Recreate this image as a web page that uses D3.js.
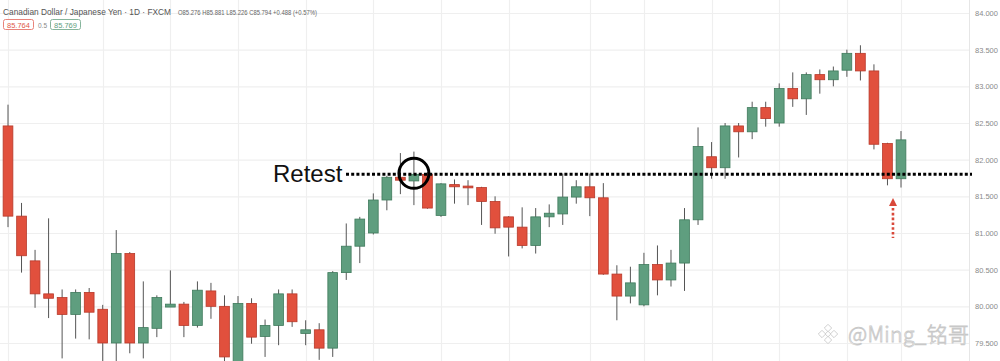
<!DOCTYPE html>
<html><head><meta charset="utf-8">
<script src="https://cdn.jsdelivr.net/npm/d3@7"></script>
<style>html,body{margin:0;padding:0;background:#fff;overflow:hidden}</style>
</head><body>
<svg id="c" width="1000" height="361"></svg>
<script>
// ---- data (CAD/JPY daily candles) ----
const categories = ["D1","D2","D3","D4","D5","D6","D7","D8","D9","D10","D11","D12","D13","D14","D15","D16","D17","D18","D19","D20","D21","D22","D23","D24","D25","D26","D27","D28","D29","D30","D31","D32","D33","D34","D35","D36","D37","D38","D39","D40","D41","D42","D43","D44","D45","D46","D47","D48","D49","D50","D51","D52","D53","D54","D55","D56","D57","D58","D59","D60","D61","D62","D63","D64","D65","D66","D67"];
const openV  = [82.46,81.23,80.62,80.17,80.12,79.89,80.19,79.96,79.50,80.72,79.50,79.70,79.99,80.03,79.74,80.21,80.00,79.20,80.04,79.59,79.74,80.17,79.63,79.68,79.43,80.46,80.82,81.00,81.45,81.76,81.71,81.80,81.24,81.66,81.64,81.62,81.43,81.22,81.08,80.83,81.22,81.26,81.49,81.63,81.48,80.44,80.14,80.02,80.57,80.36,80.59,81.18,82.04,81.89,82.46,82.38,82.71,82.50,82.97,82.83,83.16,83.09,83.22,83.45,83.21,82.22,81.74];
const highV  = [82.75,81.41,80.77,81.20,80.23,80.23,80.25,80.02,81.04,80.74,80.34,80.15,80.49,80.06,80.34,80.32,80.15,80.14,80.11,79.82,80.23,80.23,79.81,79.77,80.48,81.13,81.22,81.54,81.78,82.09,82.11,81.83,81.68,81.73,81.72,81.63,81.50,81.23,81.35,81.34,81.39,81.81,81.72,81.81,81.68,80.56,80.54,80.73,80.83,80.77,81.34,82.44,82.24,82.50,82.50,82.79,82.79,83.04,83.19,83.19,83.23,83.27,83.50,83.56,83.30,82.23,82.39];
const lowV   = [81.08,80.46,79.98,79.84,79.29,79.56,79.55,79.25,79.25,79.36,79.29,79.58,79.99,79.58,79.71,79.83,79.20,79.15,79.49,79.31,79.47,79.72,79.47,79.27,79.31,80.36,80.59,80.98,81.31,81.53,81.38,81.33,81.22,81.40,81.38,81.11,80.99,80.68,80.79,80.72,81.08,81.11,81.40,81.23,80.43,79.81,80.04,80.00,80.15,80.27,80.21,81.11,81.74,81.74,82.03,82.28,82.45,82.45,82.72,82.61,82.90,83.00,83.13,83.08,82.14,81.65,81.62];
const closeV = [81.23,80.69,80.17,80.11,79.89,80.19,79.92,79.50,80.72,79.50,79.71,80.12,80.03,79.74,80.22,80.00,79.31,80.04,79.58,79.74,80.17,79.79,79.68,79.43,80.46,80.82,81.19,81.45,81.76,81.72,81.80,81.34,81.67,81.63,81.62,81.43,81.07,81.08,80.83,81.22,81.27,81.49,81.63,81.48,80.44,80.14,80.32,80.57,80.36,80.59,81.18,82.18,81.89,82.46,82.38,82.71,82.56,82.97,82.83,83.16,83.09,83.21,83.45,83.21,82.21,81.74,82.27];
const yTicks = [84.0,83.5,83.0,82.5,82.0,81.5,81.0,80.5,80.0,79.5];
const timeGridAt = ["D1","D8","D13","D18","D23","D28","D33","D38","D44","D48","D53","D58","D63","D67"];
const retestLevel = 81.80;
const retestCandle = "D31";
const signalCandle = "D66";
const titleText = "Canadian Dollar / Japanese Yen · 1D · FXCM";
const ohlcText = "O85.276 H85.881 L85.226 C85.794 +0.488 (+0.57%)";
const bidText = "85.764", spreadText = "0.5", askText = "85.769";

// ---- layout ----
const W = 1000, H = 361, plotRight = 969;
const svg = d3.select("#c");
const x = d3.scalePoint().domain(categories).range([8, 901]);
const y = d3.scaleLinear().domain([79.5, 84]).range([343, 13]);
const bw = x.step() * 0.72;
const RED = "#e1503d", RED_S = "#b7392a", GREEN = "#5f9e7f", GREEN_S = "#3f7a5c";

svg.append("defs").append("clipPath").attr("id","plot")
  .append("rect").attr("x",0).attr("y",0).attr("width",plotRight).attr("height",H);

// grid
const grid = svg.append("g");
grid.selectAll("line.h").data(yTicks).join("line")
  .attr("x1",0).attr("x2",plotRight).attr("y1",d=>y(d)+0.5).attr("y2",d=>y(d)+0.5)
  .attr("stroke","#efefef").attr("stroke-width",1.2);
grid.selectAll("line.v").data(timeGridAt).join("line")
  .attr("x1",d=>Math.round(x(d))+0.5).attr("x2",d=>Math.round(x(d))+0.5).attr("y1",0).attr("y2",H)
  .attr("stroke","#efefef").attr("stroke-width",1.2);
svg.append("line").attr("x1",plotRight+0.5).attr("x2",plotRight+0.5).attr("y1",0).attr("y2",H)
  .attr("stroke","#e6e6e6");

// y axis labels
const yAxis = d3.axisRight(y).tickValues(yTicks).tickFormat(d3.format(".3f")).tickSize(0).tickPadding(6);
const ga = svg.append("g").attr("transform",`translate(${plotRight},0)`).call(yAxis);
ga.select(".domain").remove();
ga.selectAll("text").attr("fill","#8a8a8a").style("font-family","'Liberation Sans', Arial, sans-serif").style("font-size","7.5px");

// candles
const data = categories.map((c,i)=>({c, o:openV[i], h:highV[i], l:lowV[i], cl:closeV[i]}));
const cg = svg.append("g").attr("clip-path","url(#plot)");
cg.selectAll("line.w").data(data).join("line")
  .attr("x1",d=>x(d.c)).attr("x2",d=>x(d.c)).attr("y1",d=>y(d.h)).attr("y2",d=>y(d.l))
  .attr("stroke","#555").attr("stroke-width",1);
cg.selectAll("rect.b").data(data).join("rect")
  .attr("x",d=>x(d.c)-bw/2).attr("width",bw)
  .attr("y",d=>y(Math.max(d.o,d.cl)))
  .attr("height",d=>Math.max(1.8, Math.abs(y(d.o)-y(d.cl))))
  .attr("fill",d=>d.cl>=d.o?GREEN:RED)
  .attr("stroke",d=>d.cl>=d.o?GREEN_S:RED_S).attr("stroke-width",0.8);

// retest annotation
const ry = y(retestLevel);
svg.append("text").attr("x",273).attr("y",ry+8).text("Retest")
  .style("font-family","'Liberation Sans', Arial, sans-serif").style("font-size","24px").attr("fill","#111");
svg.append("line").attr("x1",346).attr("x2",972).attr("y1",ry).attr("y2",ry)
  .attr("stroke","#000").attr("stroke-width",3).attr("stroke-dasharray","3,2.2");
svg.append("circle").attr("cx",x(retestCandle)).attr("cy",ry-1).attr("r",15)
  .attr("fill","none").attr("stroke","#000").attr("stroke-width",3);

// red arrow
const ax = x(signalCandle)+5.5;
svg.append("path").attr("d",`M${ax},${198} L${ax-4},${206} L${ax+4},${206} Z`).attr("fill","#d9483a");
svg.append("line").attr("x1",ax).attr("x2",ax).attr("y1",208).attr("y2",238)
  .attr("stroke","#d9483a").attr("stroke-width",2.6).attr("stroke-dasharray","2.6,2.2");

// header
const hf = "'Liberation Sans', Arial, sans-serif";
svg.append("text").attr("x",3).attr("y",15).text(titleText).attr("fill","#555")
  .style("font-family",hf).style("font-size","8.4px").attr("textLength",168).attr("lengthAdjust","spacingAndGlyphs");
svg.append("text").attr("x",178).attr("y",15).text(ohlcText).attr("fill","#666")
  .style("font-family",hf).style("font-size","6.6px").attr("textLength",139).attr("lengthAdjust","spacingAndGlyphs");
svg.append("rect").attr("x",3.5).attr("y",19.5).attr("width",30).attr("height",10).attr("rx",2)
  .attr("fill","#fff").attr("stroke","#e8837a");
svg.append("text").attr("x",18.5).attr("y",27.5).attr("text-anchor","middle").text(bidText).attr("fill","#e0594c")
  .style("font-family",hf).style("font-size","7.5px");
svg.append("text").attr("x",38).attr("y",27.5).text(spreadText).attr("fill","#888")
  .style("font-family",hf).style("font-size","6.5px");
svg.append("rect").attr("x",50.5).attr("y",19.5).attr("width",30).attr("height",10).attr("rx",2)
  .attr("fill","#fff").attr("stroke","#86b59c");
svg.append("text").attr("x",65.5).attr("y",27.5).attr("text-anchor","middle").text(askText).attr("fill","#5f9e7f")
  .style("font-family",hf).style("font-size","7.5px");

// watermark
const wm = svg.append("g").attr("fill","#fff").attr("stroke","#c8c8c8").attr("stroke-width",0.8);
const lx = 828, ly = 334;
[[0,-6],[-6,0],[6,0],[0,6]].forEach(([dx,dy])=>{
  wm.append("rect").attr("x",lx+dx-2.6).attr("y",ly+dy-2.6).attr("width",5.2).attr("height",5.2)
    .attr("transform",`rotate(45,${lx+dx},${ly+dy})`);
});
wm.append("rect").attr("x",lx-2).attr("y",ly-2).attr("width",4).attr("height",4).attr("transform",`rotate(45,${lx},${ly})`);
wm.append("text").attr("x",848).attr("y",342).text("@Ming_铭哥")
  .style("font-family","'Noto Sans CJK SC','Noto Sans',sans-serif").style("font-size","21px").style("font-weight","300")
  .attr("textLength",121).attr("lengthAdjust","spacing");
</script>
</body></html>
